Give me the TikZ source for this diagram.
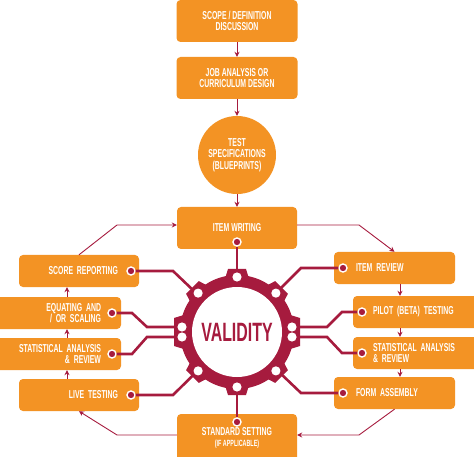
\documentclass[tikz,border=0pt]{standalone}
\usepackage{fontspec}
\setmainfont{Liberation Sans}[FakeStretch=0.6]
\usetikzlibrary{arrows.meta}
\definecolor{vorange}{RGB}{243,147,36}
\definecolor{vred}{RGB}{166,27,62}
\tikzset{
  box/.style={fill=vorange,text=white,rounded corners=4pt,inner sep=0pt,align=center,
    minimum height=32pt,font=\fontsize{11.5}{11.5}\selectfont\bfseries},
  pin/.style={circle,fill=vred,draw=white,line width=1.4pt,minimum size=8pt,inner sep=0pt},
  wire/.style={vred,line width=2.6pt},
  flow/.style={vred,line width=0.9pt,-{Stealth[length=5pt,width=5pt]}}
}
\begin{document}
\begin{tikzpicture}[x=1pt,y=-1pt]
\useasboundingbox (0,0) rectangle (474,457);
\clip (0,0) rectangle (474,457);
\node[box,minimum width=121pt,minimum height=42pt] (scope) at (237,21) {SCOPE / DEFINITION\\DISCUSSION};
\node[box,minimum width=121pt,minimum height=42pt] (job) at (237,78) {JOB ANALYSIS OR\\CURRICULUM DESIGN};
\node[box,circle,minimum size=78pt] (spec) at (237,155) {TEST\\SPECIFICATIONS\\(BLUEPRINTS)};
\node[box,minimum width=120pt,minimum height=42pt] (iw) at (237,228) {ITEM WRITING};
\node[box,minimum width=120pt,minimum height=48pt] (ss) at (237,438) {STANDARD SETTING\\{\fontsize{9}{9.5}\selectfont(IF APPLICABLE)}};
% left column
\node[box,text width=78pt,inner xsep=21pt,align=right] (sr) at (79,271) {SCORE REPORTING};
\node[box,text width=101pt,inner xsep=20pt,align=right] (eq) at (50.5,313) {EQUATING AND\\/ OR SCALING};
\node[box,text width=101pt,inner xsep=20pt,align=right] (sal) at (50.5,354) {STATISTICAL ANALYSIS\\\& REVIEW};
\node[box,text width=78pt,inner xsep=21pt,align=right] (lt) at (79,395) {LIVE TESTING};
% right column
\node[box,text width=77pt,inner xsep=22pt,align=left] (ir) at (394.5,268) {ITEM REVIEW};
\node[box,text width=101pt,inner xsep=20pt,align=left] (pt) at (423.5,312) {PILOT (BETA) TESTING};
\node[box,text width=101pt,inner xsep=20pt,align=left] (sar) at (423.5,353) {STATISTICAL ANALYSIS\\\& REVIEW};
\node[box,text width=77pt,inner xsep=22pt,align=left] (fa) at (394.5,393) {FORM ASSEMBLY};
% dots
\node[pin] (iw-dot) at (237,242) {};
\node[pin] (ss-dot) at (237,422) {};
\node[pin] (sr-dot) at (131,271) {};
\node[pin] (eq-dot) at (112,313) {};
\node[pin] (sal-dot) at (112,354) {};
\node[pin] (lt-dot) at (131,395) {};
\node[pin] (ir-dot) at (343,268) {};
\node[pin] (pt-dot) at (362,312) {};
\node[pin] (sar-dot) at (362,353) {};
\node[pin] (fa-dot) at (343,393) {};
\coordinate (gc) at (237,332);
\coordinate (lx) at (67,0);
\coordinate (rx) at (400,0);
% flow arrows
\draw[flow] (scope) -- (job);
\draw[flow] (job) -- (spec);
\draw[flow] (spec) -- (iw);
\draw[flow] (sr.north) -- (117,225) -- ([yshift=3pt]iw.west);
\draw[flow] ([yshift=3pt]iw.east) -- (359,225) -- (ir.north);
\foreach \a/\b in {ir/pt,pt/sar,sar/fa}{\draw[flow] (\a.south -| rx) -- (\b.north -| rx);}
\foreach \a/\b in {lt/sal,sal/eq,eq/sr}{\draw[flow] (\a.north -| lx) -- (\b.south -| lx);}
\draw[flow] (fa.south) -- (359,435) -- ([yshift=3pt]ss.east);
\draw[flow] ([yshift=3pt]ss.west) -- (117,435) -- (lt.south);
% wires
\draw[wire] (iw-dot) -- (gc);
\draw[wire] (ss-dot) -- (gc);
\draw[wire] (sr-dot) -- (173,271) -- (gc);
\draw[wire] (lt-dot) -- (173,395) -- (gc);
\draw[wire] (ir-dot) -- (301,268) -- (gc);
\draw[wire] (fa-dot) -- (301,393) -- (gc);
\draw[wire] (eq-dot) -- (132,313) -- (147,327) -- (237,327);
\draw[wire] (sal-dot) -- (132,354) -- (147,337) -- (237,337);
\draw[wire] (pt-dot) -- (342,312) -- (327,327) -- (237,327);
\draw[wire] (sar-dot) -- (342,353) -- (327,337) -- (237,337);
% gear
\begin{scope}[shift={(237,332)}]
\fill[vred] (0,0) circle (57);
\foreach \a/\w in {0/30,45/20,90/20,135/20,180/30,225/20,270/20,315/20}{
  \fill[vred,rotate=\a] (50,-\w/2-3) -- (63,-\w/2+1) -- (63,\w/2-1) -- (50,\w/2+3) -- cycle;}
\foreach \a in {45,90,135,225,270,315}{\fill[white] (\a:55) circle (4.6);}
\foreach \x in {-55,55}{\fill[white] (\x,-5) circle (4.6) (\x,5) circle (4.6);}
\end{scope}
\node[circle,fill=white,minimum size=90pt,inner sep=0pt,text=vred,font=\fontsize{26.5}{26.5}\selectfont\bfseries] (validity) at (gc) {VALIDITY};
\end{tikzpicture}
\end{document}
